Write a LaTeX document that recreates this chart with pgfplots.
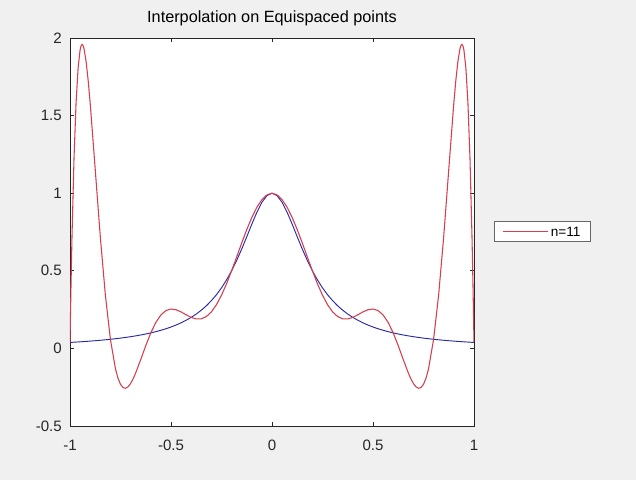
\documentclass[border=0pt]{standalone}
\usepackage{fontspec}
\setmainfont{Liberation Sans}
\usepackage{pgfplots}
\usepackage{pgfplotstable}
\pgfplotsset{compat=1.18}

\definecolor{figbg}{HTML}{F0F0F0}
\definecolor{axcol}{HTML}{262626}
\definecolor{runge}{RGB}{40,40,170}
\definecolor{interp}{RGB}{212,62,78}

% Runge function 1/(1+25x^2)
\pgfplotstableread{
x y
-1 0.038462
-0.975 0.040379
-0.95 0.042440
-0.925 0.044661
-0.9 0.047059
-0.875 0.049651
-0.85 0.052459
-0.825 0.055507
-0.8 0.058824
-0.775 0.062439
-0.75 0.066390
-0.725 0.070718
-0.7 0.075472
-0.675 0.080706
-0.65 0.086486
-0.625 0.092888
-0.6 0.1
-0.575 0.107925
-0.55 0.116788
-0.525 0.126733
-0.5 0.137931
-0.475 0.150588
-0.45 0.164948
-0.425 0.181303
-0.4 0.2
-0.375 0.221453
-0.35 0.246154
-0.325 0.274678
-0.3 0.307692
-0.275 0.345946
-0.25 0.390244
-0.225 0.441379
-0.2 0.5
-0.175 0.566372
-0.15 0.64
-0.125 0.719101
-0.1 0.8
-0.075 0.876712
-0.05 0.941176
-0.025 0.984615
0 1
0.025 0.984615
0.05 0.941176
0.075 0.876712
0.1 0.8
0.125 0.719101
0.15 0.64
0.175 0.566372
0.2 0.5
0.225 0.441379
0.25 0.390244
0.275 0.345946
0.3 0.307692
0.325 0.274678
0.35 0.246154
0.375 0.221453
0.4 0.2
0.425 0.181303
0.45 0.164948
0.475 0.150588
0.5 0.137931
0.525 0.126733
0.55 0.116788
0.575 0.107925
0.6 0.1
0.625 0.092888
0.65 0.086486
0.675 0.080706
0.7 0.075472
0.725 0.070718
0.75 0.066390
0.775 0.062439
0.8 0.058824
0.825 0.055507
0.85 0.052459
0.875 0.049651
0.9 0.047059
0.925 0.044661
0.95 0.042440
0.975 0.040379
1 0.038462
}\rungedata

% degree-10 interpolant on 11 equispaced nodes
\pgfplotstableread{
x y
-1 0.03846
-0.995 0.40719
-0.99 0.72607
-0.98 1.23032
-0.97 1.58099
-0.96 1.80435
-0.95 1.92362
-0.945 1.95066
-0.94 1.95896
-0.935 1.95074
-0.93 1.92794
-0.92 1.84582
-0.91 1.72573
-0.9 1.57872
-0.875 1.15168
-0.85 0.71946
-0.825 0.34504
-0.8 0.05882
-0.775 -0.13118
-0.7625 -0.19175
-0.75 -0.23146
-0.7375 -0.25241
-0.725 -0.25688
-0.7125 -0.24731
-0.7 -0.22620
-0.6875 -0.19592
-0.675 -0.15882
-0.65 -0.07260
-0.625 0.01747
-0.6 0.1
-0.575 0.16738
-0.55 0.21559
-0.525 0.24380
-0.5 0.25376
-0.475 0.24916
-0.45 0.23497
-0.425 0.21672
-0.4 0.2
-0.375 0.18988
-0.35 0.19058
-0.325 0.20516
-0.3 0.23535
-0.275 0.28150
-0.25 0.34264
-0.225 0.41655
-0.2 0.5
-0.175 0.58898
-0.15 0.67899
-0.125 0.76533
-0.1 0.84341
-0.075 0.90903
-0.05 0.95863
-0.025 0.98951
0 1
0.025 0.98951
0.05 0.95863
0.075 0.90903
0.1 0.84341
0.125 0.76533
0.15 0.67899
0.175 0.58898
0.2 0.5
0.225 0.41655
0.25 0.34264
0.275 0.28150
0.3 0.23535
0.325 0.20516
0.35 0.19058
0.375 0.18988
0.4 0.2
0.425 0.21672
0.45 0.23497
0.475 0.24916
0.5 0.25376
0.525 0.24380
0.55 0.21559
0.575 0.16738
0.6 0.1
0.625 0.01747
0.65 -0.07260
0.675 -0.15882
0.6875 -0.19592
0.7 -0.22620
0.7125 -0.24731
0.725 -0.25688
0.7375 -0.25241
0.75 -0.23146
0.7625 -0.19175
0.775 -0.13118
0.8 0.05882
0.825 0.34504
0.85 0.71946
0.875 1.15168
0.9 1.57872
0.91 1.72573
0.92 1.84582
0.93 1.92794
0.935 1.95074
0.94 1.95896
0.945 1.95066
0.95 1.92362
0.96 1.80435
0.97 1.58099
0.98 1.23032
0.99 0.72607
0.995 0.40719
1 0.03846
}\interpdata

\begin{document}
\begin{tikzpicture}
% figure background, 636x480 px at 0.75pt per px
\fill[figbg] (-52.5pt,-40.5pt) rectangle (424.5pt,319.5pt);
\begin{axis}[
    at={(0,0)}, anchor=south west,
    scale only axis, width=303pt, height=291pt,
    xmin=-1, xmax=1, ymin=-0.5, ymax=2,
    axis background/.style={fill=white},
    axis line style={axcol, line width=0.6pt},
    xtick={-1,-0.5,0,0.5,1},
    xticklabels={-1,-0.5,0,0.5,1},
    ytick={-0.5,0,0.5,1,1.5,2},
    yticklabels={-0.5,0,0.5,1,1.5,2},
    tick align=inside, xtick pos=both, ytick pos=both,
    major tick length=3pt,
    tick style={axcol, line width=0.6pt},
    ticklabel style={font=\fontsize{11.3}{13}\selectfont, text=axcol},
    xticklabel style={anchor=base, yshift=-18pt, inner sep=0pt},
    yticklabel style={anchor=east, xshift=-6pt, inner sep=0pt},
    title={Interpolation on Equispaced points},
    title style={at={(0.5,1)}, anchor=base, yshift=5.8pt, inner sep=0pt,
        font=\fontsize{12.2}{14}\selectfont, text=black},
    legend style={at={(1.0495,0.5013)}, anchor=west, draw=axcol!70, fill=white,
        line width=0.5pt, font=\fontsize{10.2}{12}\selectfont,
        inner xsep=6pt, inner ysep=3.6pt,
        nodes={inner xsep=1.8pt, inner ysep=0pt, text height=7.4pt, text depth=0pt}},
    legend image code/.code={\draw[#1] (0pt,0pt) -- (33.75pt,0pt);},
]
\addplot[runge, line width=0.7pt, forget plot] table {\rungedata};
\addplot[interp, line width=0.8pt] table {\interpdata};
\addlegendentry{n=11}
\end{axis}
\end{tikzpicture}
\end{document}
